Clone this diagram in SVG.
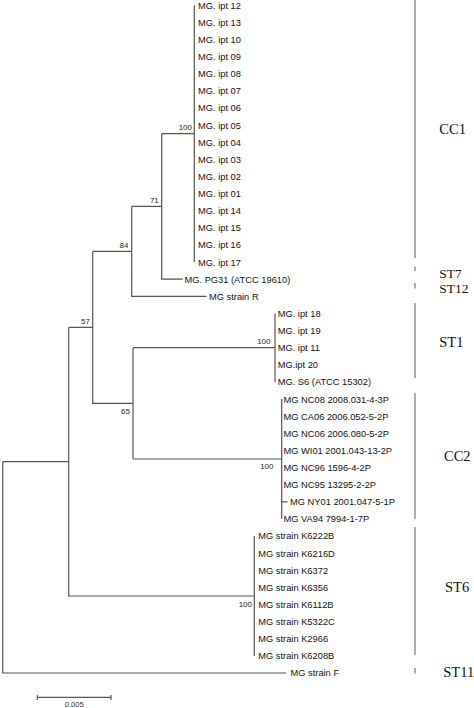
<svg xmlns="http://www.w3.org/2000/svg" width="474" height="708" viewBox="0 0 474 708">
<style>
.br{stroke:#555;stroke-width:1.2;fill:none}
.bk{stroke:#8a8a8a;stroke-width:1.4;fill:none}
.lf{font-family:"Liberation Sans",Arial,sans-serif;font-size:9.3px;fill:#111}
.bs{font-family:"Liberation Sans",Arial,sans-serif;font-size:8px;fill:#222;text-anchor:end}
.gp{font-family:"Liberation Serif","Times New Roman",serif;font-size:14.5px;fill:#111}
.gs{font-family:"Liberation Serif","Times New Roman",serif;font-size:13.5px;fill:#111}
</style>
<rect width="474" height="708" fill="#fff"/>
<g id="connectors">
<path class="br" d="M194.3 5.3V262.1M161.7 133.7H194.3M161.7 133.7V279.2H182.7M131.7 206.4H161.7M131.7 206.4V296.3H206.5M92.7 251.4H131.7M92.7 251.4V403.4H133M133 347.7V459M133 347.7H275M275 313.5V381.9M133 459H281.7M281.7 399.1V518.9M281.7 501.8H287.3M68.7 327.4H92.7M68.7 327.4V596H254.3M254.3 536V655.9M2.7 461.7H68.7M2.7 461.7V673H286"/>
</g>
<g id="bootstrap">
<text class="bs" x="192" y="130">100</text>
<text class="bs" x="158.8" y="202.5">71</text>
<text class="bs" x="128.5" y="248">84</text>
<text class="bs" x="90" y="324">57</text>
<text class="bs" x="130" y="414">65</text>
<text class="bs" x="270.5" y="344">100</text>
<text class="bs" x="273.5" y="469">100</text>
<text class="bs" x="252" y="606.5">100</text>
</g>
<g id="cc1-leaves" class="lf">
<text x="198" y="8.7">MG. ipt 12</text>
<text x="198" y="25.8">MG. ipt 13</text>
<text x="198" y="42.9">MG. ipt 10</text>
<text x="198" y="60.1">MG. ipt 09</text>
<text x="198" y="77.2">MG. ipt 08</text>
<text x="198" y="94.3">MG. ipt 07</text>
<text x="198" y="111.4">MG. ipt 06</text>
<text x="198" y="128.5">MG. ipt 05</text>
<text x="198" y="145.7">MG. ipt 04</text>
<text x="198" y="162.8">MG. ipt 03</text>
<text x="198" y="179.9">MG. ipt 02</text>
<text x="198" y="197">MG. ipt 01</text>
<text x="198" y="214.1">MG. ipt 14</text>
<text x="198" y="231.3">MG. ipt 15</text>
<text x="198" y="248.4">MG. ipt 16</text>
<text x="198" y="265.5">MG. ipt 17</text>
</g>
<g id="pg31" class="lf"><text x="184.5" y="282.6">MG. PG31 (ATCC 19610)</text></g>
<g id="strainR" class="lf"><text x="209" y="299.7">MG strain R</text></g>
<g id="st1-leaves" class="lf">
<text x="277.7" y="316.9">MG. ipt 18</text>
<text x="277.7" y="334">MG. ipt 19</text>
<text x="277.7" y="351.1">MG. ipt 11</text>
<text x="277.7" y="368.2">MG.ipt 20</text>
<text x="277.7" y="385.3">MG. S6 (ATCC 15302)</text>
</g>
<g id="cc2-leaves" class="lf">
<text x="283.5" y="402.5">MG NC08 2008.031-4-3P</text>
<text x="283.5" y="419.6">MG CA06 2006.052-5-2P</text>
<text x="283.5" y="436.7">MG NC06 2006.080-5-2P</text>
<text x="283.5" y="453.8">MG WI01 2001.043-13-2P</text>
<text x="283.5" y="471">MG NC96 1596-4-2P</text>
<text x="283.5" y="488.1">MG NC95 13295-2-2P</text>
<text x="290" y="505.2">MG NY01 2001.047-5-1P</text>
<text x="283.5" y="522.3">MG VA94 7994-1-7P</text>
</g>
<g id="st6-leaves" class="lf">
<text x="258.3" y="539.4">MG strain K6222B</text>
<text x="258.3" y="556.5">MG strain K6216D</text>
<text x="258.3" y="573.7">MG strain K6372</text>
<text x="258.3" y="590.8">MG strain K6356</text>
<text x="258.3" y="607.9">MG strain K6112B</text>
<text x="258.3" y="625">MG strain K5322C</text>
<text x="258.3" y="642.1">MG strain K2966</text>
<text x="258.3" y="659.3">MG strain K6208B</text>
</g>
<g id="strainF" class="lf"><text x="290.5" y="676.4">MG strain F</text></g>
<g id="groups">
<path class="bk" d="M415 0V258M415 266.5V271M415 283V288.5M415 303V378M415 393V519M415 527V655M415 668V673.5"/>
<text class="gp" x="439.3" y="134.1">CC1</text>
<text class="gs" x="439.3" y="278">ST7</text>
<text class="gs" x="439.3" y="292.5">ST12</text>
<text class="gp" x="439.3" y="346.5">ST1</text>
<text class="gp" x="444" y="460.8">CC2</text>
<text class="gp" x="445" y="591.5">ST6</text>
<text class="gp" x="443.3" y="676.5">ST11</text>
</g>
<g id="scalebar">
<path class="br" d="M37.3 697.3H111M37.3 695V700M111 695V700"/>
<text x="74.2" y="706.5" font-family="Liberation Sans, Arial, sans-serif" font-size="7.5" fill="#333" text-anchor="middle">0.005</text>
</g>
</svg>
